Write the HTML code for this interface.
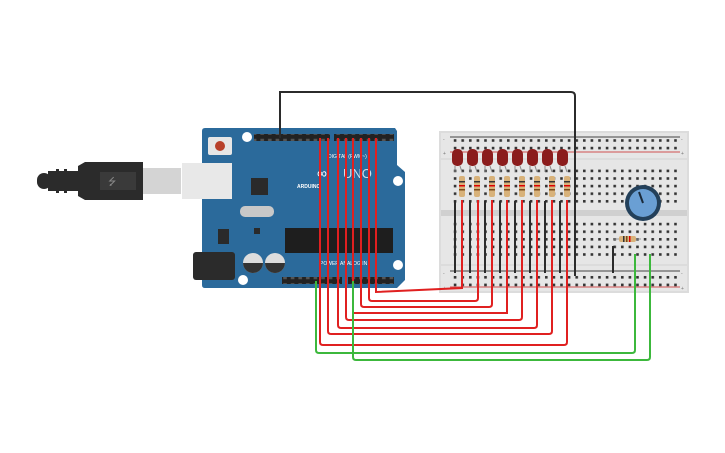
<!DOCTYPE html>
<html><head><style>html,body{margin:0;padding:0;background:#fff;width:725px;height:453px;overflow:hidden}</style></head>
<body>
<svg width="725" height="453" viewBox="0 0 725 453" xmlns="http://www.w3.org/2000/svg" font-family="Liberation Sans, sans-serif">
<defs>
<pattern id="dots" x="451.4" y="0" width="7.6" height="7.6" patternUnits="userSpaceOnUse">
<rect x="2.4" y="2.4" width="2.6" height="2.6" fill="#333"/>
</pattern>
<pattern id="pins" x="0" y="0" width="7.6" height="7.6" patternUnits="userSpaceOnUse">
<rect x="2" y="2" width="3.6" height="3.6" fill="#555"/>
</pattern>
</defs>
<!-- breadboard -->
<rect x="439" y="131" width="250" height="162" fill="#dcdcdc"/>
<rect x="441" y="133" width="246" height="25" fill="#e6e6e6"/>
<rect x="441" y="266" width="246" height="25" fill="#e6e6e6"/>
<rect x="441" y="160" width="246" height="50" fill="#e6e6e6"/>
<rect x="441" y="216" width="246" height="48" fill="#e6e6e6"/>
<rect x="441" y="210" width="246" height="6" fill="#d0d0d0"/>
<line x1="450" y1="137" x2="680" y2="137" stroke="#444" stroke-width="1"/>
<line x1="450" y1="152" x2="680" y2="152" stroke="#d05050" stroke-width="1"/>
<line x1="450" y1="271" x2="680" y2="271" stroke="#444" stroke-width="1"/>
<line x1="450" y1="287" x2="680" y2="287" stroke="#d05050" stroke-width="1"/>
<g fill="url(#dots)">
<rect x="451" y="138" width="226" height="14"/>
<rect x="451" y="168" width="226" height="38"/>
<rect x="451" y="220" width="226" height="38"/>
<rect x="451" y="273" width="226" height="14"/>
</g>
<g font-size="5" fill="#777">
<text x="443" y="141">-</text><text x="443" y="155">+</text><text x="681" y="141">-</text><text x="681" y="155">+</text>
<text x="443" y="275">-</text><text x="443" y="290">+</text><text x="681" y="275">-</text><text x="681" y="290">+</text>
</g>
<!-- LEDs -->
<g>
<g id="led"><rect x="452" y="149" width="11" height="17" rx="5" fill="#8b1c1c"/><line x1="455" y1="166" x2="455" y2="172" stroke="#888"/><line x1="460" y1="166" x2="462" y2="172" stroke="#888"/>
<rect x="459" y="176" width="6" height="21" rx="2" fill="#d8b27a"/><rect x="459" y="181" width="6" height="1.5" fill="#333"/><rect x="459" y="185" width="6" height="1.5" fill="#d00"/><rect x="459" y="189" width="6" height="1.5" fill="#7a4a1a"/></g>
<use href="#led" x="15"/><use href="#led" x="30"/><use href="#led" x="45"/><use href="#led" x="60"/><use href="#led" x="75"/><use href="#led" x="90"/><use href="#led" x="105"/>
</g>
<!-- black vertical wires -->
<g stroke="#2b2b2b" stroke-width="2">
<line x1="455" y1="201" x2="455" y2="273"/><line x1="470" y1="201" x2="470" y2="273"/><line x1="485" y1="201" x2="485" y2="273"/><line x1="500" y1="201" x2="500" y2="273"/>
<line x1="515" y1="201" x2="515" y2="273"/><line x1="530" y1="201" x2="530" y2="273"/><line x1="545" y1="201" x2="545" y2="273"/><line x1="560" y1="201" x2="560" y2="273"/>
<line x1="613" y1="246" x2="613" y2="273"/>
</g>
<!-- pot -->
<circle cx="643" cy="203" r="18" fill="#23405a"/>
<circle cx="643" cy="203" r="14" fill="#6a9fd4"/>
<line x1="643" y1="203" x2="639" y2="192" stroke="#1a2a3a" stroke-width="2"/>
<!-- small resistor -->
<line x1="614" y1="239" x2="641" y2="239" stroke="#999"/>
<rect x="619" y="236" width="17" height="6" rx="2" fill="#d8b27a"/>
<rect x="623" y="236" width="1.5" height="6" fill="#333"/><rect x="626" y="236" width="1.5" height="6" fill="#7a4a1a"/><rect x="629" y="236" width="1.5" height="6" fill="#d00"/>
<!-- USB -->
<rect x="37" y="173" width="14" height="16" rx="7" fill="#2b2b2b"/>
<rect x="48" y="171" width="30" height="20" fill="#2b2b2b"/>
<rect x="56" y="169" width="3" height="24" fill="#2b2b2b"/><rect x="64" y="169" width="3" height="24" fill="#2b2b2b"/>
<path d="M78 166 L85 162 L143 162 L143 200 L85 200 L78 196 Z" fill="#2b2b2b"/>
<rect x="100" y="172" width="36" height="18" fill="#3a3a3a"/>
<text x="108" y="185" font-size="10" fill="#888">⭍</text>
<rect x="143" y="168" width="38" height="26" fill="#d4d4d4"/>
<!-- Arduino -->
<path d="M202 131 Q202 128 205 128 L395 128 L397 131 L397 165 L405 172 L405 280 L397 288 L205 288 Q202 288 202 285 Z" fill="#2b6a9b"/>
<rect x="182" y="163" width="50" height="36" fill="#e8e8e8"/>
<rect x="193" y="252" width="42" height="28" rx="3" fill="#2b2b2b"/>
<rect x="208" y="137" width="24" height="18" rx="2" fill="#e6e6e6"/><circle cx="220" cy="146" r="5" fill="#b8402a"/>
<circle cx="247" cy="137" r="5" fill="#fff"/><circle cx="398" cy="181" r="5" fill="#fff"/><circle cx="398" cy="265" r="5" fill="#fff"/><circle cx="243" cy="280" r="5" fill="#fff"/>
<rect x="251" y="178" width="17" height="17" fill="#2a2a2a"/>
<rect x="240" y="206" width="34" height="11" rx="5" fill="#c8c8c8"/>
<rect x="218" y="229" width="11" height="15" fill="#2a2a2a"/>
<rect x="254" y="228" width="6" height="6" fill="#2a2a2a"/>
<circle cx="253" cy="263" r="10" fill="#ddd"/><path d="M243 263 A10 10 0 0 0 263 263Z" fill="#333"/>
<circle cx="275" cy="263" r="10" fill="#ddd"/><path d="M265 263 A10 10 0 0 0 285 263Z" fill="#333"/>
<rect x="285" y="228" width="108" height="25" fill="#1e1e1e"/>
<rect x="254" y="134" width="76" height="7" fill="#222"/><rect x="334" y="134" width="60" height="7" fill="#222"/>
<rect x="282" y="277" width="60" height="7" fill="#222"/><rect x="348" y="277" width="46" height="7" fill="#222"/>
<rect x="254" y="134" width="76" height="7" fill="url(#pins)"/><rect x="334" y="134" width="60" height="7" fill="url(#pins)"/>
<rect x="282" y="277" width="60" height="7" fill="url(#pins)"/><rect x="348" y="277" width="46" height="7" fill="url(#pins)"/>
<text x="317" y="178" font-size="14" fill="#fff">∞</text>
<text x="343" y="178" font-size="13" fill="#cfe0ee">UNO</text>
<text x="297" y="188" font-size="5" fill="#fff" font-weight="bold">ARDUINO</text>
<text x="328" y="158" font-size="5" fill="#fff">DIGITAL (PWM~)</text>
<text x="320" y="265" font-size="5" fill="#fff">POWER    ANALOG IN</text>
<!-- black long wire -->
<path d="M280 138 L280 92 L571 92 Q575 92 575 96 L575 276" fill="none" stroke="#2b2b2b" stroke-width="2"/>
<!-- red wires -->
<g fill="none" stroke="#e02020" stroke-width="2">
<path d="M376 138 L376 292 L462 288 L462 200"/>
<path d="M369 138 L369 298 Q369 301 372 301 L475 301 Q478 301 478 298 L478 200"/>
<path d="M361 138 L361 304 Q361 307 364 307 L489 307 Q492 307 492 304 L492 200"/>
<path d="M353 138 L353 313 L507 313 L507 200"/>
<path d="M346 138 L346 317 Q346 320 349 320 L519 320 Q522 320 522 317 L522 200"/>
<path d="M338 138 L338 325 Q338 328 341 328 L534 328 Q537 328 537 325 L537 200"/>
<path d="M328 138 L328 331 Q328 334 331 334 L549 334 Q552 334 552 331 L552 200"/>
<path d="M320 138 L320 342 Q320 345 323 345 L564 345 Q567 345 567 342 L567 200"/>
</g>
<!-- green wires -->
<g fill="none" stroke="#3cb83c" stroke-width="2">
<path d="M316 281 L316 350 Q316 353 319 353 L632 353 Q635 353 635 350 L635 254"/>
<path d="M353 281 L353 357 Q353 360 356 360 L647 360 Q650 360 650 357 L650 254"/>
</g>
</svg>
</body></html>
